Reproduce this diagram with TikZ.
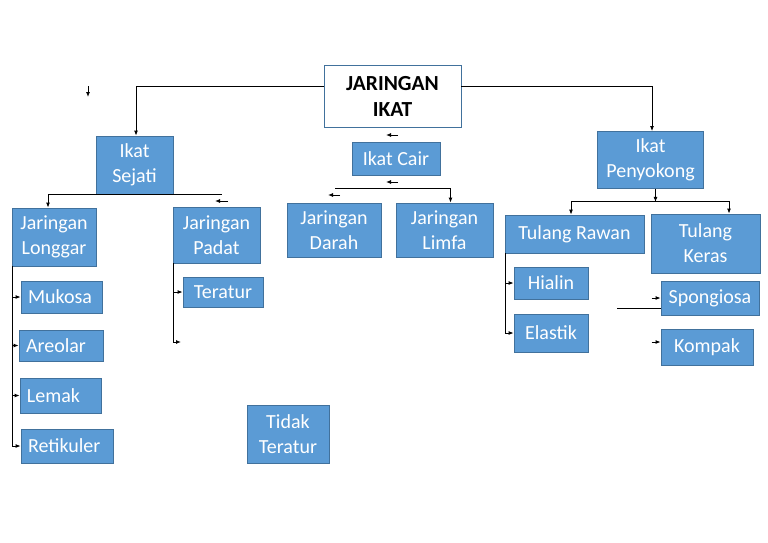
\documentclass[tikz,border=0pt]{standalone}
\usepackage{fontspec}
\setmainfont{Carlito}
\usetikzlibrary{arrows.meta}
\definecolor{isibiru}{HTML}{5B9BD5}
\definecolor{garisbiru}{HTML}{41719C}
\tikzset{
  kotak/.style={draw=garisbiru, fill=isibiru, text=white, line width=0.8pt,
    align=center, inner sep=0pt, font=\fontsize{20}{25}\selectfont},
  kiri/.style={align=left, inner xsep=7pt, text width=#1},
  judul/.style={draw=garisbiru, fill=white, text=black, line width=0.8pt,
    align=center, inner sep=0pt, font=\fontsize{21.5}{26}\selectfont\bfseries},
  panah/.style={-{Latex[length=5pt,width=4pt]}, line width=0.9pt},
}
\begin{document}
\begin{tikzpicture}[x=1pt,y=-1pt]
    \useasboundingbox (0,0) rectangle (768,543);
    % kotak utama
    \node[judul, minimum width=137pt, minimum height=62pt] (ikat) at (392.5,96) {JARINGAN\\IKAT};
    \node[kotak, minimum width=77pt, minimum height=58pt] (sejati) at (134.5,165) {Ikat\\Sejati};
    \node[kotak, minimum width=88pt, minimum height=33pt] (cair) at (396,158.5) {Ikat Cair};
    \node[kotak, minimum width=106pt, minimum height=57pt] (penyokong) at (650.5,160) {Ikat\\Penyokong};
    % tingkat kedua
    \node[kotak, minimum width=84pt, minimum height=58pt] (longgar) at (54,237) {Jaringan\\Longgar};
    \node[kotak, minimum width=87pt, minimum height=56pt] (padat) at (216.5,235) {Jaringan\\Padat};
    \node[kotak, minimum width=94pt, minimum height=54pt] (darah) at (334,230) {Jaringan\\Darah};
    \node[kotak, minimum width=97pt, minimum height=54pt] (limfa) at (444.5,230) {Jaringan\\Limfa};
    \node[kotak, minimum width=139pt, minimum height=38pt] (rawan) at (574.5,234) {Tulang Rawan};
    \node[kotak, minimum width=109pt, minimum height=59pt] (keras) at (705.5,243.5) {Tulang\\Keras};
    % tingkat ketiga
    \node[kotak, kiri=67pt, minimum height=32pt] (mukosa) at (61.5,297) {Mukosa};
    \node[kotak, kiri=70pt, minimum height=31pt] (areolar) at (61,345.5) {Areolar};
    \node[kotak, kiri=67pt, minimum height=35pt] (lemak) at (60.5,395.5) {Lemak};
    \node[kotak, kiri=78pt, minimum height=34pt] (retikuler) at (67,446) {Retikuler};
    \node[kotak, minimum width=80pt, minimum height=30pt] (teratur) at (223,292) {Teratur};
    \node[kotak, minimum width=82pt, minimum height=58pt] (tidak) at (288,434) {Tidak\\Teratur};
    \node[kotak, minimum width=74pt, minimum height=32pt] (hialin) at (551,283) {Hialin};
    \node[kotak, minimum width=74pt, minimum height=38pt] (elastik) at (551,333) {Elastik};
    \node[kotak, minimum width=98pt, minimum height=34pt] (spongiosa) at (710,298) {Spongiosa};
    \node[kotak, minimum width=92pt, minimum height=36pt] (kompak) at (707,347) {Kompak};
    % titik lepas
    \coordinate (p1) at (88,86);
    \coordinate (p2) at (398,135);
    \coordinate (p3) at (398,182);
    \coordinate (p4) at (340,195);
    \coordinate (p5) at (228,201);
    \coordinate (c1) at (335,188);
    \coordinate (d1) at (181,342);
    \coordinate (t1) at (617,308);
    % garis
    \draw[panah] ([yshift=10pt]ikat.west) -| ([xshift=1.5pt]sejati.north);
    \draw[panah] ([yshift=10pt]ikat.east) -| ([xshift=1.5pt]penyokong.north);
    \draw[panah] ([xshift=5pt]sejati.south -| padat.north) -| ([xshift=-6pt]longgar.north);
    \draw[panah] (c1) -| ([xshift=6pt]limfa.north);
    \draw[panah] ([xshift=5pt]penyokong.south) -- ++(0,13) coordinate (pk);
    \draw[panah] (pk) -| ([xshift=-3.5pt]rawan.north);
    \draw[panah] (pk) -| ([xshift=23.5pt]keras.north);
    \foreach \anak in {mukosa,areolar,lemak,retikuler}
        \draw[panah] ([xshift=1pt]longgar.south west) |- (\anak.west);
    \draw[panah] ([xshift=1pt]padat.south west) |- (teratur.west);
    \draw[panah] ([xshift=1pt]padat.south west) |- (d1);
    \foreach \anak in {hialin,elastik}
        \draw[panah] ([xshift=1pt]rawan.south west) |- (\anak.west);
    \draw[line width=0.9pt] (t1) -- (t1 -| spongiosa.west);
    \draw[panah] ([xshift=-9pt]spongiosa.west) -- (spongiosa.west);
    \draw[panah] ([xshift=-9pt,yshift=5pt]kompak.west) -- ([yshift=5pt]kompak.west);
    % panah kecil
    \draw[panah] (p1) -- ++(0,11);
    \draw[panah] (p2) -- ++(-12,0);
    \draw[panah] (p3) -- ++(-12,0);
    \draw[panah] (p4) -- ++(-12,0);
    \draw[panah] (p5) -- ++(-13,0);
\end{tikzpicture}
\end{document}
